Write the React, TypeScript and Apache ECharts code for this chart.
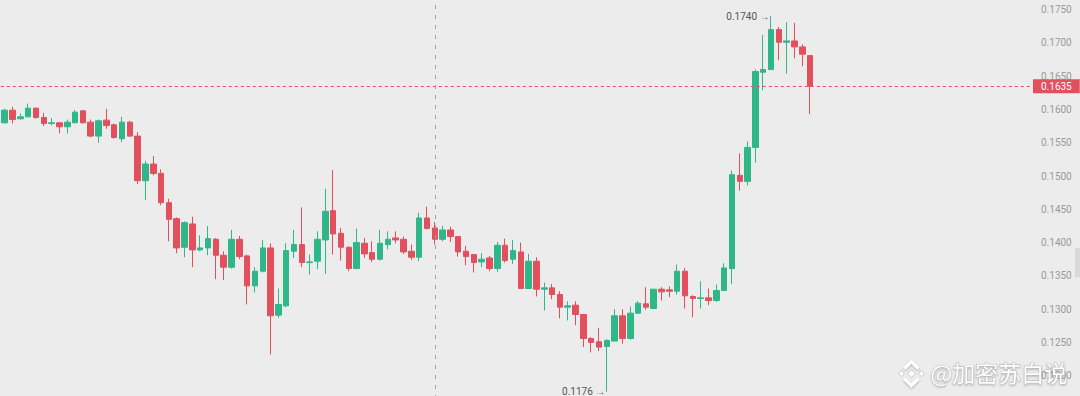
import React, { useEffect, useRef } from "react";
import * as echarts from "echarts";

const openPrices = [
  0.1580, 0.1599, 0.1586, 0.1589, 0.1602, 0.1588, 0.1579, 0.1580, 0.1574, 0.1580,
  0.1598, 0.1581, 0.1560, 0.1584, 0.1577, 0.1556, 0.1581, 0.1560, 0.1493, 0.1518,
  0.1504, 0.1460, 0.1436, 0.1393, 0.1428, 0.1389, 0.1392, 0.1405, 0.1381, 0.1363,
  0.1405, 0.1380, 0.1335, 0.1357, 0.1392, 0.1291, 0.1305, 0.1387, 0.1397, 0.1370,
  0.1372, 0.1404, 0.1448, 0.1414, 0.1393, 0.1361, 0.1399, 0.1385, 0.1375, 0.1397,
  0.1407, 0.1405, 0.1387, 0.1378, 0.1437, 0.1422, 0.1405, 0.1419, 0.1409, 0.1387,
  0.1382, 0.1371, 0.1377, 0.1361, 0.1396, 0.1375, 0.1386, 0.1331, 0.1372, 0.1330,
  0.1332, 0.1322, 0.1303, 0.1306, 0.1292, 0.1256, 0.1251, 0.1244, 0.1252, 0.1290,
  0.1256, 0.1294, 0.1308, 0.1301, 0.1330, 0.1329, 0.1327, 0.1357, 0.1319, 0.1316,
  0.1317, 0.1313, 0.1328, 0.1361, 0.1501, 0.1492, 0.1543, 0.1656, 0.1660, 0.1720,
  0.1701, 0.1703, 0.1694, 0.1681,
];
const closePrices = [
  0.1599, 0.1585, 0.1589, 0.1602, 0.1588, 0.1579, 0.1580, 0.1574, 0.1581, 0.1596,
  0.1580, 0.1560, 0.1583, 0.1576, 0.1558, 0.1581, 0.1560, 0.1493, 0.1518, 0.1504,
  0.1460, 0.1435, 0.1392, 0.1430, 0.1389, 0.1392, 0.1406, 0.1381, 0.1363, 0.1405,
  0.1379, 0.1335, 0.1357, 0.1392, 0.1290, 0.1307, 0.1388, 0.1397, 0.1370, 0.1371,
  0.1405, 0.1447, 0.1413, 0.1393, 0.1361, 0.1400, 0.1383, 0.1375, 0.1399, 0.1405,
  0.1404, 0.1386, 0.1378, 0.1437, 0.1421, 0.1405, 0.1419, 0.1409, 0.1386, 0.1379,
  0.1370, 0.1375, 0.1361, 0.1396, 0.1373, 0.1388, 0.1331, 0.1372, 0.1330, 0.1332,
  0.1322, 0.1303, 0.1305, 0.1292, 0.1256, 0.1250, 0.1243, 0.1253, 0.1290, 0.1256,
  0.1294, 0.1309, 0.1303, 0.1330, 0.1326, 0.1327, 0.1357, 0.1320, 0.1316, 0.1317,
  0.1313, 0.1328, 0.1362, 0.1502, 0.1492, 0.1543, 0.1657, 0.1660, 0.1720, 0.1701,
  0.1703, 0.1694, 0.1683, 0.1635,
];
const lowPrices = [
  0.1579, 0.1579, 0.1585, 0.1588, 0.1586, 0.1575, 0.1576, 0.1564, 0.1564, 0.1580,
  0.1579, 0.1558, 0.1550, 0.1571, 0.1556, 0.1551, 0.1559, 0.1488, 0.1464, 0.1501,
  0.1456, 0.1402, 0.1384, 0.1378, 0.1363, 0.1387, 0.1381, 0.1345, 0.1344, 0.1361,
  0.1375, 0.1307, 0.1325, 0.1355, 0.1232, 0.1287, 0.1303, 0.1377, 0.1363, 0.1352,
  0.1360, 0.1353, 0.1382, 0.1373, 0.1357, 0.1360, 0.1377, 0.1371, 0.1373, 0.1390,
  0.1399, 0.1383, 0.1374, 0.1372, 0.1420, 0.1397, 0.1402, 0.1401, 0.1379, 0.1366,
  0.1355, 0.1363, 0.1357, 0.1356, 0.1370, 0.1368, 0.1331, 0.1331, 0.1319, 0.1298,
  0.1315, 0.1286, 0.1283, 0.1276, 0.1243, 0.1235, 0.1237, 0.1176, 0.1252, 0.1248,
  0.1254, 0.1293, 0.1299, 0.1300, 0.1313, 0.1318, 0.1322, 0.1301, 0.1288, 0.1301,
  0.1306, 0.1311, 0.1327, 0.1338, 0.1478, 0.1486, 0.1520, 0.1629, 0.1660, 0.1674,
  0.1654, 0.1677, 0.1665, 0.1593,
];
const highPrices = [
  0.1601, 0.1604, 0.1594, 0.1609, 0.1603, 0.1595, 0.1587, 0.1581, 0.1585, 0.1599,
  0.1599, 0.1585, 0.1585, 0.1601, 0.1579, 0.1589, 0.1583, 0.1566, 0.1523, 0.1530,
  0.1510, 0.1466, 0.1438, 0.1432, 0.1439, 0.1411, 0.1425, 0.1407, 0.1387, 0.1419,
  0.1410, 0.1382, 0.1363, 0.1404, 0.1399, 0.1331, 0.1399, 0.1419, 0.1453, 0.1382,
  0.1417, 0.1481, 0.1509, 0.1422, 0.1394, 0.1421, 0.1407, 0.1402, 0.1419, 0.1417,
  0.1417, 0.1409, 0.1397, 0.1445, 0.1454, 0.1431, 0.1425, 0.1424, 0.1410, 0.1395,
  0.1383, 0.1384, 0.1380, 0.1401, 0.1406, 0.1404, 0.1400, 0.1383, 0.1378, 0.1340,
  0.1338, 0.1327, 0.1312, 0.1312, 0.1293, 0.1258, 0.1272, 0.1255, 0.1300, 0.1300,
  0.1304, 0.1312, 0.1333, 0.1330, 0.1333, 0.1334, 0.1367, 0.1362, 0.1321, 0.1342,
  0.1331, 0.1337, 0.1369, 0.1508, 0.1534, 0.1552, 0.1660, 0.1712, 0.1740, 0.1724,
  0.1731, 0.1730, 0.1698, 0.1681,
];

// total slots on the time axis (candles + empty space to the right)
const slotCount = 132;
const categories = Array.from({ length: slotCount }, (_, i) => String(i));

const lastPrice = 0.1635;
const crosshairIndex = 55;
const highMark = { index: 98, value: 0.174 };
const lowMark = { index: 77, value: 0.1176 };
const watermarkText = "@加密苏白说";

const UP = "#2fb78a";
const DOWN = "#e2505e";
const BG = "#ececec";

// the chart canvas is a little taller than the window so that the
// axis range 0.1150 – 0.1775 maps onto the reference's pixel scale
const CANVAS_TOP = -7.125;
const CANVAS_HEIGHT = 415.625;
const OY = -CANVAS_TOP;

export default function App() {
  const ref = useRef<HTMLDivElement>(null);

  useEffect(() => {
    document.body.style.margin = "0";
    document.body.style.background = BG;
    document.body.style.overflow = "hidden";
    const chart = echarts.init(ref.current!, null, { renderer: "svg" });

    const candles = openPrices.map((o, i) => [o, closePrices[i], lowPrices[i], highPrices[i]]);

    const shadow = { shadowColor: "rgba(0,0,0,0.35)", shadowBlur: 2, shadowOffsetY: 1 };

    const option: any = {
      animation: false,
      backgroundColor: BG,
      grid: { left: 0.79, right: 47, top: 0, bottom: 0 },
      xAxis: {
        type: "category",
        data: categories,
        boundaryGap: true,
        axisLine: { show: false },
        axisTick: { show: false },
        axisLabel: { show: false },
        splitLine: { show: false },
      },
      yAxis: {
        type: "value",
        position: "right",
        min: 0.115,
        max: 0.1775,
        interval: 0.005,
        axisLine: { show: false },
        axisTick: { show: false },
        splitLine: { show: false },
        axisLabel: {
          showMinLabel: false,
          showMaxLabel: false,
          color: "#9a9a9a",
          fontSize: 10,
          fontFamily: "Roboto",
          margin: 8,
          formatter: (v: number) => v.toFixed(4),
        },
      },
      series: [
        {
          type: "candlestick",
          data: candles,
          barWidth: 6,
          itemStyle: {
            color: UP,
            color0: DOWN,
            borderColor: UP,
            borderColor0: DOWN,
            borderWidth: 1,
          },
          markLine: {
            silent: true,
            precision: 4,
            symbol: ["none", "none"],
            data: [
              {
                yAxis: lastPrice,
                lineStyle: { color: DOWN, type: [3, 3], width: 1 },
                label: {
                  show: true,
                  position: "end",
                  distance: 0,
                  formatter: lastPrice.toFixed(4),
                  color: "#ffffff",
                  backgroundColor: DOWN,
                  fontSize: 10,
                  fontFamily: "Roboto",
                  padding: [2, 8, 2, 8],
                },
              },
              {
                xAxis: String(crosshairIndex),
                lineStyle: { color: "#a0a0a0", type: [4, 6], width: 1 },
                label: { show: false },
              },
            ],
          },
          markPoint: {
            symbol: "circle",
            symbolSize: 1,
            itemStyle: { color: "rgba(0,0,0,0)" },
            label: {
              show: true,
              position: "left",
              distance: 1,
              color: "#555555",
              fontSize: 10,
              fontFamily: "Roboto",
            },
            data: [
              {
                coord: [String(highMark.index), highMark.value],
                label: { formatter: highMark.value.toFixed(4) + " →" },
              },
              {
                coord: [String(lowMark.index), lowMark.value],
                label: { formatter: lowMark.value.toFixed(4) + " →" },
              },
            ],
          },
        },
      ],
      graphic: [
        {
          type: "rect",
          right: 0,
          top: 248 + OY,
          shape: { width: 5, height: 29 },
          style: { fill: "#d8d8d8" },
          z: 5,
        },
        {
          type: "group",
          left: 898,
          top: 359 + OY,
          z: 10,
          children: [
            {
              type: "polygon",
              shape: { points: [[13, 9], [17, 13], [13, 17], [9, 13]] },
              style: { fill: "#ffffff", stroke: "#b8b8b8", lineWidth: 0.8 },
            },
            {
              type: "polyline",
              shape: { points: [[6, 8], [13, 1], [20, 8]] },
              style: { stroke: "#ffffff", lineWidth: 3, fill: null, ...shadow },
            },
            {
              type: "polyline",
              shape: { points: [[6, 18], [13, 25], [20, 18]] },
              style: { stroke: "#ffffff", lineWidth: 3, fill: null, ...shadow },
            },
            {
              type: "polygon",
              shape: { points: [[3, 10], [6, 13], [3, 16], [0, 13]] },
              style: { fill: "#ffffff", stroke: "#b8b8b8", lineWidth: 0.8 },
            },
            {
              type: "polygon",
              shape: { points: [[23, 10], [26, 13], [23, 16], [20, 13]] },
              style: { fill: "#ffffff", stroke: "#b8b8b8", lineWidth: 0.8 },
            },
          ],
        },
        {
          type: "text",
          left: 930,
          top: 360 + OY,
          z: 10,
          style: {
            text: watermarkText,
            fill: "#ffffff",
            font: '23px "Noto Sans CJK SC", sans-serif',
            stroke: "#b0b0b0",
            lineWidth: 0.8,
            textShadowColor: "rgba(0,0,0,0.25)",
            textShadowBlur: 2,
            textShadowOffsetY: 1,
          },
        },
      ],
    };

    chart.setOption(option);
    return () => chart.dispose();
  }, []);

  return (
    <div style={{ position: "absolute", left: 0, top: 0, width: 1080, height: 396, overflow: "hidden", background: BG }}>
      <div
        ref={ref}
        style={{ position: "absolute", left: 0, top: CANVAS_TOP, width: 1080, height: CANVAS_HEIGHT }}
      />
    </div>
  );
}
